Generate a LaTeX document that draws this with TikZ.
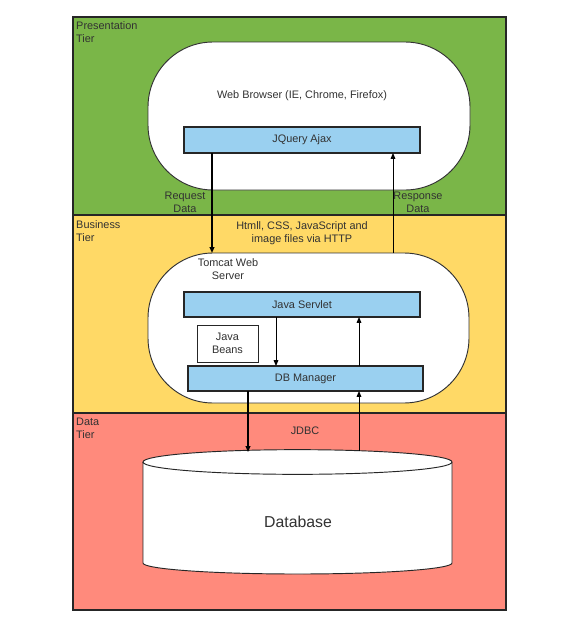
\documentclass[tikz,border=0pt]{standalone}
\usepackage{fontspec}
\setmainfont{Liberation Sans}
\usepackage{tikz}
\usetikzlibrary{arrows.meta,positioning,calc}
\usepackage{xcolor}

\definecolor{tiergreen}{RGB}{122, 182, 72}
\definecolor{tieryellow}{RGB}{255, 217, 102}
\definecolor{tierred}{RGB}{255, 138, 124}
\definecolor{boxblue}{RGB}{154, 208, 240}
\definecolor{inkgray}{RGB}{50, 50, 50}

\newlength\px
\setlength\px{0.03cm}

\begin{document}
\begin{tikzpicture}[
                x=0.03cm,y=-0.03cm,
                every node/.style={font=\fontsize{9.3}{11.2}\selectfont,text=inkgray},
                tier/.style={draw=black!85,line width=1.2pt,inner sep=0pt,outer sep=0pt,minimum width=433*\px},
                tierlabel/.style={anchor=north west,align=left,inner sep=0pt},
                stadium/.style={draw=black!80,fill=white,line width=0.8pt,rounded corners=1.95cm,inner sep=0pt,outer sep=0pt},
                layer/.style={draw=black!85,fill=boxblue,line width=1pt,inner sep=0pt,outer sep=0pt,minimum height=25*\px},
                arr/.style={-{Triangle[length=5pt,width=4pt]},line width=0.8pt,black},
                thickarr/.style={arr,line width=1.2pt}
            ]
                \useasboundingbox (0,0) rectangle (573,635);

                % Tiers
                \node[tier,fill=tiergreen,minimum height=198*\px] (pres) at (289.5,116) {};
                \node[tier,fill=tieryellow,minimum height=198*\px] (bus) at (289.5,314) {};
                \node[tier,fill=tierred,minimum height=197*\px] (data) at (289.5,511.5) {};
                \node[tierlabel] (preslabel) at (76,21) {Presentation\\Tier};
                \node[tierlabel] (buslabel) at (76,220) {Business\\Tier};
                \node[tierlabel] (datalabel) at (76,418) {Data\\Tier};

                % Presentation Tier
                \node[stadium,minimum width=322*\px,minimum height=148*\px] (browser) at (309,116) {};
                \node (browsertext) at (302,96) {Web Browser (IE, Chrome, Firefox)};
                \node[layer,minimum width=236*\px,minimum height=26*\px] (ajax) at (302,140) {JQuery Ajax};

                % Business Tier
                \node[stadium,minimum width=321*\px,minimum height=150*\px] (tomcat) at (308.5,328) {};
                \node[align=center] (tomcattext) at (228,269.5) {Tomcat Web\\Server};
                \node[layer,minimum width=236*\px] (servlet) at (302,304.5) {Java Servlet};
                \node[draw=black!85,fill=white,line width=0.8pt,align=center,inner sep=0pt,
                      minimum width=61*\px,minimum height=37*\px] (beans) at (227.5,343.5) {Java\\Beans};
                \node[layer,minimum width=235*\px] (dbm) at (305.5,378.5) {DB Manager};

                % Data Tier
                \draw[draw=black!85,fill=white,line width=0.8pt] (143,462) -- (143,563)
                    arc[start angle=180,end angle=360,x radius=4.635cm,y radius=0.33cm]
                    -- (452,462)
                    arc[start angle=0,end angle=180,x radius=4.635cm,y radius=0.37cm] -- cycle;
                \draw[black!85,line width=0.8pt] (143,462)
                    arc[start angle=180,end angle=360,x radius=4.635cm,y radius=0.37cm];
                \node[font=\fontsize{13.5}{16}\selectfont] (db) at (298,522) {Database};

                % Lanes
                \coordinate (reqx) at (212,0);
                \coordinate (resx) at (393,0);
                \coordinate (downx) at (276,0);
                \coordinate (upx) at (359,0);
                \coordinate (dbin) at (248,452);
                \coordinate (dbout) at (359,451);

                % Connections
                \draw[thickarr] (ajax.south -| reqx) -- (tomcat.north -| reqx);
                \draw[arr] (tomcat.north -| resx) -- (ajax.south -| resx);
                \draw[arr] (servlet.south -| downx) -- (dbm.north -| downx);
                \draw[arr] (dbm.north -| upx) -- (servlet.south -| upx);
                \draw[thickarr] (dbm.south -| dbin) -- (dbin);
                \draw[arr] (dbout) -- (dbm.south -| dbout);

                % Labels
                \node[align=center] (request) at (185,202) {Request\\Data};
                \node[align=center] (response) at (418,202) {Response\\Data};
                \node[align=center] (http) at (302,233) {Htmll, CSS, JavaScript and\\image files via HTTP};
                \node (jdbc) at (305,431) {JDBC};
            \end{tikzpicture}
\end{document}
